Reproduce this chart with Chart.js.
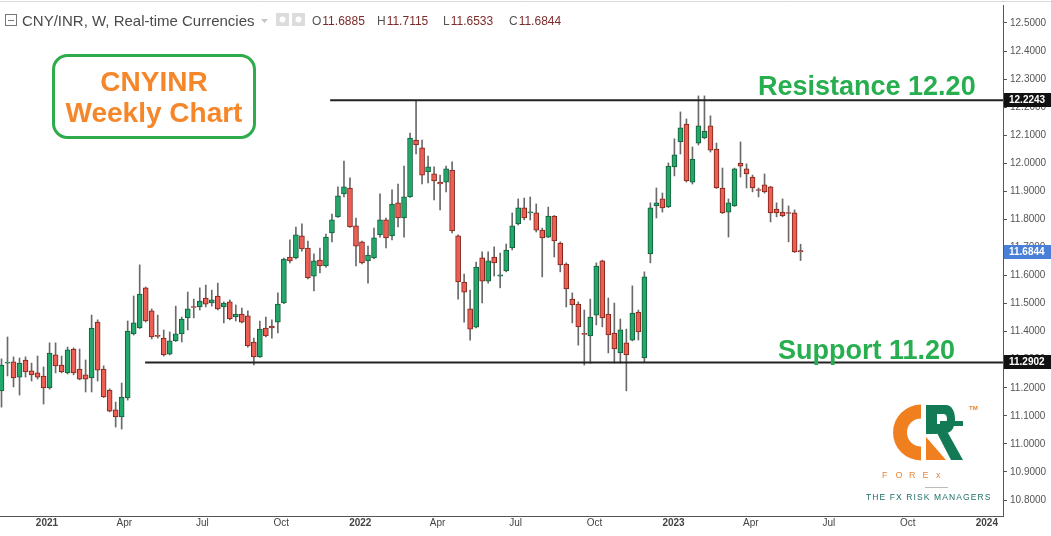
<!DOCTYPE html>
<html>
<head>
<meta charset="utf-8">
<script src="https://cdn.jsdelivr.net/npm/chart.js@4.4.0/dist/chart.umd.min.js"></script>
<style>
  html, body { margin: 0; padding: 0; background: #fff; }
  #wrap { width: 1051px; height: 536px; }
</style>
</head>
<body>
<div id="wrap"><canvas id="chart" width="1051" height="536"></canvas></div>
<script>
// weekly candles, first one is the week of 2020-11-09
const firstWeek = "2020-11-09";

const openPrices = [
  11.189, 11.288, 11.292, 11.238, 11.299, 11.260, 11.253, 11.242, 11.199, 11.317,
  11.281, 11.253, 11.338, 11.267, 11.246, 11.235, 11.434, 11.267, 11.192, 11.121,
  11.096, 11.164, 11.392, 11.413, 11.556, 11.474, 11.385, 11.377, 11.320, 11.367,
  11.392, 11.449, 11.488, 11.488, 11.520, 11.502, 11.527, 11.488, 11.506, 11.452,
  11.463, 11.456, 11.363, 11.310, 11.413, 11.420, 11.434, 11.502, 11.666, 11.663,
  11.741, 11.698, 11.598, 11.655, 11.634, 11.752, 11.809, 11.891, 11.912, 11.777,
  11.720, 11.652, 11.663, 11.745, 11.798, 11.741, 11.859, 11.805, 11.880, 12.083,
  12.055, 11.969, 11.962, 11.933, 11.933, 11.976, 11.741, 11.577, 11.481, 11.416,
  11.663, 11.580, 11.666, 11.598, 11.616, 11.698, 11.784, 11.841, 11.823, 11.823,
  11.762, 11.737, 11.812, 11.716, 11.641, 11.516, 11.498, 11.392, 11.385, 11.459,
  11.652, 11.463, 11.395, 11.324, 11.360, 11.370, 11.470, 11.306, 11.677, 11.848,
  11.873, 11.844, 11.987, 12.076, 12.140, 11.933, 12.072, 12.090, 12.133, 12.051,
  11.912, 11.826, 11.848, 12.001, 11.980, 11.951, 11.905, 11.923, 11.916, 11.837,
  11.826, 11.823, 11.823, 11.6885
];

const highPrices = [
  11.303, 11.381, 11.310, 11.306, 11.310, 11.288, 11.313, 11.274, 11.360, 11.360,
  11.313, 11.345, 11.342, 11.338, 11.299, 11.459, 11.442, 11.278, 11.196, 11.149,
  11.217, 11.438, 11.527, 11.638, 11.559, 11.481, 11.459, 11.406, 11.399, 11.491,
  11.452, 11.541, 11.516, 11.556, 11.566, 11.548, 11.573, 11.506, 11.513, 11.495,
  11.484, 11.474, 11.377, 11.438, 11.452, 11.442, 11.538, 11.662, 11.727, 11.773,
  11.784, 11.723, 11.677, 11.698, 11.748, 11.819, 11.916, 12.008, 11.948, 11.805,
  11.723, 11.705, 11.769, 11.891, 11.805, 11.905, 11.926, 11.990, 12.108, 12.222,
  12.083, 12.026, 11.987, 11.958, 11.990, 12.005, 11.745, 11.605, 11.548, 11.648,
  11.684, 11.684, 11.702, 11.680, 11.712, 11.823, 11.873, 11.876, 11.880, 11.855,
  11.769, 11.844, 11.814, 11.720, 11.645, 11.538, 11.506, 11.477, 11.516, 11.645,
  11.655, 11.520, 11.502, 11.445, 11.409, 11.563, 11.477, 11.613, 11.859, 11.912,
  11.894, 12.001, 12.087, 12.183, 12.158, 12.058, 12.240, 12.240, 12.169, 12.072,
  11.983, 11.873, 11.983, 12.076, 11.998, 11.958, 11.912, 11.962, 11.918, 11.859,
  11.873, 11.848, 11.834, 11.7115
];

const lowPrices = [
  11.131, 11.242, 11.203, 11.174, 11.238, 11.224, 11.231, 11.142, 11.195, 11.253,
  11.253, 11.249, 11.246, 11.228, 11.185, 11.185, 11.224, 11.165, 11.114, 11.060,
  11.053, 11.156, 11.388, 11.411, 11.434, 11.374, 11.377, 11.313, 11.317, 11.365,
  11.363, 11.406, 11.449, 11.477, 11.488, 11.491, 11.477, 11.431, 11.442, 11.438,
  11.431, 11.345, 11.281, 11.308, 11.381, 11.377, 11.395, 11.500, 11.645, 11.659,
  11.687, 11.588, 11.545, 11.609, 11.630, 11.720, 11.807, 11.880, 11.771, 11.634,
  11.641, 11.573, 11.659, 11.737, 11.698, 11.727, 11.773, 11.737, 11.878, 12.033,
  11.926, 11.930, 11.869, 11.834, 11.898, 11.752, 11.516, 11.434, 11.370, 11.413,
  11.502, 11.573, 11.598, 11.556, 11.613, 11.691, 11.780, 11.798, 11.798, 11.755,
  11.595, 11.735, 11.666, 11.613, 11.488, 11.431, 11.352, 11.281, 11.288, 11.424,
  11.417, 11.324, 11.288, 11.288, 11.189, 11.367, 11.370, 11.292, 11.645, 11.805,
  11.826, 11.842, 11.955, 12.033, 11.933, 11.926, 12.065, 12.087, 12.040, 11.910,
  11.821, 11.737, 11.846, 11.951, 11.912, 11.898, 11.880, 11.894, 11.791, 11.809,
  11.809, 11.720, 11.682, 11.6533
];

const closePrices = [
  11.281, 11.290, 11.235, 11.288, 11.256, 11.246, 11.238, 11.199, 11.324, 11.278,
  11.256, 11.335, 11.253, 11.231, 11.231, 11.413, 11.263, 11.167, 11.117, 11.096,
  11.167, 11.402, 11.431, 11.534, 11.438, 11.381, 11.383, 11.317, 11.367, 11.392,
  11.445, 11.481, 11.486, 11.509, 11.498, 11.513, 11.481, 11.502, 11.445, 11.463,
  11.434, 11.349, 11.310, 11.409, 11.385, 11.413, 11.498, 11.659, 11.652, 11.745,
  11.695, 11.591, 11.652, 11.634, 11.737, 11.798, 11.884, 11.916, 11.773, 11.705,
  11.645, 11.673, 11.734, 11.798, 11.734, 11.855, 11.805, 11.880, 12.090, 12.065,
  11.958, 11.987, 11.937, 11.926, 11.980, 11.759, 11.577, 11.541, 11.409, 11.630,
  11.580, 11.652, 11.645, 11.602, 11.691, 11.777, 11.841, 11.805, 11.825, 11.762,
  11.734, 11.812, 11.723, 11.638, 11.552, 11.495, 11.417, 11.390, 11.452, 11.634,
  11.449, 11.388, 11.338, 11.406, 11.317, 11.466, 11.399, 11.595, 11.841, 11.859,
  11.841, 11.990, 12.030, 12.126, 11.937, 12.015, 12.133, 12.115, 12.047, 11.912,
  11.823, 11.859, 11.980, 11.990, 11.962, 11.912, 11.903, 11.898, 11.823, 11.823,
  11.812, 11.821, 11.684, 11.6844
];

const xTickDates = ["2021-01-01", "2021-04-01", "2021-07-01", "2021-10-01",
                    "2022-01-01", "2022-04-01", "2022-07-01", "2022-10-01",
                    "2023-01-01", "2023-04-01", "2023-07-01", "2023-10-01",
                    "2024-01-01"];
const xTickLabels = ["2021", "Apr", "Jul", "Oct", "2022", "Apr", "Jul", "Oct",
                     "2023", "Apr", "Jul", "Oct", "2024"];
const yTickValues = [10.8, 10.9, 11.0, 11.1, 11.2, 11.3, 11.4, 11.5, 11.6,
                     11.7, 11.8, 11.9, 12.0, 12.1, 12.2, 12.3, 12.4, 12.5];

const resistanceLevel = 12.2243;
const supportLevel = 11.2902;
const lastPrice = 11.6844;
// week index where each drawn line starts
const resistanceStart = 54.7;
const supportStart = 23.9;

const xMin = -0.25;
const xMax = 166.69;

const UP = "#22a86b", UP_BORDER = "#155c3a";
const DOWN = "#ec5f55", DOWN_BORDER = "#7d2318";
const WICK = "#6a6a6a";
const FONT = '"Liberation Sans", Arial, sans-serif';

function weekIndex(dateStr) {
  return (Date.parse(dateStr) - Date.parse(firstWeek)) / (7 * 864e5);
}

const bodies = openPrices.map((o, i) => ({ x: i, y: [o, closePrices[i]] }));
const wicks = lowPrices.map((l, i) => ({ x: i, y: [l, highPrices[i]] }));
const isUp = openPrices.map((o, i) => closePrices[i] >= o);

const overlay = {
  id: "overlay",
  afterDraw(chart) {
    const ctx = chart.ctx;
    const y = chart.scales.y;
    ctx.save();

    // top border
    ctx.strokeStyle = "#d9d9d9";
    ctx.lineWidth = 1;
    ctx.beginPath(); ctx.moveTo(0, 1.5); ctx.lineTo(1051, 1.5); ctx.stroke();

    // header
    ctx.strokeStyle = "#777";
    ctx.strokeRect(5.5, 14.5, 11, 11);
    ctx.beginPath(); ctx.moveTo(8, 20.5); ctx.lineTo(14, 20.5); ctx.stroke();
    ctx.font = "15px " + FONT;
    ctx.fillStyle = "#4a4a4a";
    ctx.textBaseline = "alphabetic";
    ctx.textAlign = "left";
    ctx.fillText("CNY/INR, W, Real-time Currencies", 22, 26);
    ctx.fillStyle = "#c4c4c4";
    ctx.beginPath(); ctx.moveTo(261, 19); ctx.lineTo(268, 19); ctx.lineTo(264.5, 23); ctx.fill();
    ctx.fillStyle = "#dcdcdc";
    ctx.fillRect(276, 13, 13, 13);
    ctx.fillRect(292, 13, 13, 13);
    ctx.fillStyle = "#fff";
    ctx.beginPath(); ctx.arc(282.5, 19.5, 3, 0, Math.PI * 2); ctx.fill();
    ctx.beginPath(); ctx.arc(298.5, 19.5, 3, 0, Math.PI * 2); ctx.fill();

    ctx.font = "12px " + FONT;
    const ohlc = [["O", openPrices], ["H", highPrices], ["L", lowPrices], ["C", closePrices]];
    const ohlcX = [312, 377, 443, 509];
    const last = openPrices.length - 1;
    ohlc.forEach(([letter, arr], k) => {
      ctx.fillStyle = "#555";
      ctx.fillText(letter, ohlcX[k], 25);
      const w = ctx.measureText(letter).width;
      ctx.fillStyle = "#7d2a2a";
      ctx.fillText(arr[last].toFixed(4), ohlcX[k] + w + 1, 25);
    });

    // title box
    ctx.strokeStyle = "#2eab4b";
    ctx.lineWidth = 3;
    ctx.beginPath();
    ctx.roundRect(53.5, 55.5, 201, 82, 14);
    ctx.stroke();
    ctx.fillStyle = "#f5862a";
    ctx.font = "bold 28px " + FONT;
    ctx.textAlign = "center";
    ctx.fillText("CNYINR", 154, 91);
    ctx.fillText("Weekly Chart", 154, 122);

    // level captions
    ctx.textAlign = "left";
    ctx.fillStyle = "#27ae4f";
    ctx.font = "bold 27px " + FONT;
    ctx.fillText("Resistance 12.20", 758, 95);
    ctx.fillText("Support 11.20", 778, 359);

    // price boxes on the axis
    const boxes = [[resistanceLevel, "#111"], [supportLevel, "#111"], [lastPrice, "#4a7fd8"]];
    ctx.font = "bold 10px " + FONT;
    ctx.textBaseline = "middle";
    boxes.forEach(([v, col]) => {
      const py = Math.round(y.getPixelForValue(v));
      ctx.fillStyle = col;
      ctx.fillRect(1004, py - 7, 47, 14);
      ctx.fillStyle = "#fff";
      ctx.fillText(v.toFixed(4), 1009, py + 0.5);
    });

    // logo
    ctx.fillStyle = "#f07f1f";
    ctx.beginPath();
    ctx.arc(921, 432.5, 28, -Math.PI / 2, Math.PI / 2, true);
    ctx.arc(921, 432.5, 14, Math.PI / 2, -Math.PI / 2, false);
    ctx.closePath();
    ctx.fill();
    ctx.beginPath();
    ctx.moveTo(926, 437); ctx.lineTo(926, 460); ctx.lineTo(946, 460);
    ctx.closePath(); ctx.fill();

    ctx.fillStyle = "#127a55";
    ctx.fillRect(926, 405, 11, 29);
    ctx.beginPath();
    ctx.moveTo(926, 405); ctx.lineTo(946, 405);
    ctx.bezierCurveTo(958, 405, 958, 433, 946, 433);
    ctx.lineTo(937, 433); ctx.lineTo(937, 424); ctx.lineTo(944, 424);
    ctx.bezierCurveTo(948, 424, 948, 414, 944, 414);
    ctx.lineTo(926, 414);
    ctx.closePath(); ctx.fill();
    ctx.fillRect(940, 421, 23, 5);
    ctx.beginPath();
    ctx.moveTo(937, 433); ctx.lineTo(948, 433); ctx.lineTo(963, 460); ctx.lineTo(951, 460);
    ctx.closePath(); ctx.fill();

    ctx.fillStyle = "#f07f1f";
    ctx.font = "bold 6px " + FONT;
    ctx.textBaseline = "alphabetic";
    ctx.fillText("TM", 969, 410);

    ctx.font = "9px " + FONT;
    ctx.fillStyle = "#e8873a";
    ["F", "O", "R", "E", "x"].forEach((c, k) => ctx.fillText(c, 882 + k * 13.5, 478));
    ctx.strokeStyle = "#bbb";
    ctx.lineWidth = 1;
    ctx.beginPath(); ctx.moveTo(925, 487.5); ctx.lineTo(948, 487.5); ctx.stroke();
    ctx.fillStyle = "#1f6f6a";
    ctx.font = "8.5px " + FONT;
    ctx.letterSpacing = "1.1px";
    ctx.fillText("THE FX RISK MANAGERS", 866, 500);
    ctx.letterSpacing = "0px";

    ctx.restore();
  }
};

new Chart(document.getElementById("chart"), {
  type: "bar",
  data: {
    datasets: [
      {
        type: "line",
        data: [{ x: resistanceStart, y: resistanceLevel }, { x: xMax, y: resistanceLevel }],
        borderColor: "#222",
        borderWidth: 2,
        pointRadius: 0,
        order: 0
      },
      {
        type: "line",
        data: [{ x: supportStart, y: supportLevel }, { x: xMax, y: supportLevel }],
        borderColor: "#222",
        borderWidth: 2,
        pointRadius: 0,
        order: 0
      },
      {
        data: bodies,
        backgroundColor: isUp.map(u => u ? UP : DOWN),
        borderColor: isUp.map(u => u ? UP_BORDER : DOWN_BORDER),
        borderWidth: 1,
        borderSkipped: false,
        barThickness: 5,
        minBarLength: 1,
        grouped: false,
        order: 1
      },
      {
        data: wicks,
        backgroundColor: WICK,
        borderWidth: 0,
        barThickness: 1,
        grouped: false,
        order: 2
      }
    ]
  },
  options: {
    responsive: false,
    animation: false,
    layout: { padding: { top: 5, left: 0, right: 0, bottom: 0 } },
    plugins: { legend: { display: false }, tooltip: { enabled: false } },
    scales: {
      x: {
        type: "linear",
        min: xMin,
        max: xMax,
        offset: false,
        grid: { display: true, drawOnChartArea: false, drawTicks: false },
        border: { color: "#555" },
        afterBuildTicks: s => { s.ticks = xTickDates.map(d => ({ value: weekIndex(d) })); },
        afterFit: s => { s.height = 20; s.paddingLeft = 0; s.paddingRight = 0; },
        ticks: {
          autoSkip: false,
          maxRotation: 0,
          padding: 1,
          color: "#444",
          font: c => ({ family: FONT, size: 10, weight: /^\d/.test(xTickLabels[c.index] || "") ? "bold" : "normal" }),
          callback: (v, i) => xTickLabels[i]
        }
      },
      y: {
        position: "right",
        min: 10.743,
        max: 12.564,
        grid: { drawOnChartArea: false, drawTicks: true, tickLength: 4, color: "#555" },
        border: { color: "#555" },
        afterBuildTicks: s => { s.ticks = yTickValues.map(v => ({ value: v })); },
        afterFit: s => { s.width = 48; s.paddingTop = 0; s.paddingBottom = 0; },
        ticks: {
          padding: 3,
          color: "#555",
          font: { family: FONT, size: 10 },
          callback: v => v.toFixed(4)
        }
      }
    }
  },
  plugins: [overlay]
});
</script>
</body>
</html>
